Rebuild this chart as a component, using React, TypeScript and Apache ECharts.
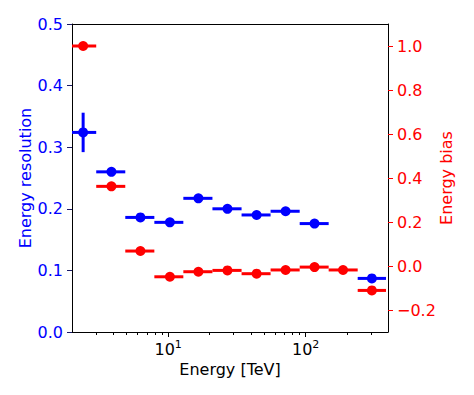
import { useEffect, useRef } from "react";
import * as echarts from "echarts";

// Energy bins (TeV)
const binEdges = [2.0, 3.0, 4.88, 7.94, 12.9, 21.0, 34.2, 55.6, 90.5, 147, 239, 384];
const binCenters = [2.41, 3.87, 6.29, 10.3, 16.6, 27.0, 44.0, 71.5, 116, 187, 303];
// Energy resolution (left axis)
const resolution: (number | null)[] = [0.324, 0.26, 0.186, 0.178, 0.217, 0.2, 0.19, 0.196, 0.176, null, 0.087];
const resolutionErr: (number | null)[] = [0.032, 0.004, 0.003, 0.003, 0.003, 0.003, 0.003, 0.003, 0.003, null, 0.003];
// Energy bias (right axis)
const bias = [1.0, 0.362, 0.068, -0.049, -0.026, -0.02, -0.035, -0.018, -0.005, -0.018, -0.111];
const biasErr = [0.01, 0.005, 0.005, 0.005, 0.005, 0.005, 0.005, 0.005, 0.005, 0.005, 0.005];

const xMajorTicks = [10, 100];
const xMinorTicks = [3, 4, 5, 6, 7, 8, 9, 20, 30, 40, 50, 60, 70, 80, 90, 200, 300];
const biasTicks = [-0.2, 0, 0.2, 0.4, 0.6, 0.8, 1.0];

const FONT = "DejaVu Sans";
const BLUE = "#0000ff";
const RED = "#ff0000";
const AXIS = "#000000";

function buildRows(values: (number | null)[], errs: (number | null)[]) {
  const rows: number[][] = [];
  values.forEach((v, i) => {
    if (v === null || v === undefined) return;
    rows.push([binEdges[i], binEdges[i + 1], v, binCenters[i], (errs[i] as number) || 0]);
  });
  return rows;
}

function errRender(color: string) {
  return (params: any, api: any) => {
    const lo = api.value(0);
    const hi = api.value(1);
    const y = api.value(2);
    const c = api.value(3);
    const e = api.value(4);
    const p1 = api.coord([lo, y]);
    const p2 = api.coord([hi, y]);
    const p3 = api.coord([c, y + e]);
    const p4 = api.coord([c, y - e]);
    return {
      type: "group",
      children: [
        {
          type: "line",
          shape: { x1: p1[0], y1: p1[1], x2: p2[0], y2: p2[1] },
          style: { stroke: color, lineWidth: 3 },
        },
        {
          type: "line",
          shape: { x1: p3[0], y1: p3[1], x2: p4[0], y2: p4[1] },
          style: { stroke: color, lineWidth: 3 },
        },
      ],
    };
  };
}

export default function App() {
  const ref = useRef<HTMLDivElement>(null);
  useEffect(() => {
    if (!ref.current) return;
    const chart = echarts.init(ref.current, undefined, { renderer: "svg" });
    const resRows = buildRows(resolution, resolutionErr);
    const biasRows = buildRows(bias, biasErr);
    const xCommon = {
      type: "log" as const,
      logBase: 10,
      min: 2.0,
      max: 397,
      splitLine: { show: false },
      minorTick: { show: false },
    };
    chart.setOption({
      animation: false,
      backgroundColor: "#ffffff",
      textStyle: { fontFamily: FONT },
      grid: { left: 72, right: 86, top: 24, bottom: 63, containLabel: false },
      xAxis: [
        {
          ...xCommon,
          position: "bottom",
          name: "Energy [TeV]",
          nameLocation: "middle",
          nameGap: 29,
          nameMoveOverlap: false,
          nameTextStyle: { fontFamily: FONT, fontSize: 16, color: "#000" },
          axisLine: { show: true, onZero: false, lineStyle: { color: AXIS, width: 1 } },
          axisTick: { show: true, length: 5, lineStyle: { color: AXIS }, customValues: xMajorTicks },
          axisLabel: {
            show: true,
            margin: 7,
            customValues: xMajorTicks,
            formatter: (v: number) => (Math.abs(v - 10) < 1e-6 ? "{b|10}{s|1}" : "{b|10}{s|2}"),
            rich: {
              b: { fontFamily: FONT, fontSize: 16, color: "#000", lineHeight: 20 },
              s: { fontFamily: FONT, fontSize: 11, color: "#000", lineHeight: 12, verticalAlign: "top" },
            },
          },
        },
        {
          ...xCommon,
          position: "bottom",
          axisLine: { show: false, onZero: false },
          axisTick: { show: true, length: 3, lineStyle: { color: AXIS }, customValues: xMinorTicks },
          axisLabel: { show: false },
        },
        {
          ...xCommon,
          position: "top",
          axisLine: { show: true, onZero: false, lineStyle: { color: AXIS, width: 1 } },
          axisTick: { show: false },
          axisLabel: { show: false },
        },
      ],
      yAxis: [
        {
          type: "value",
          position: "left",
          min: 0,
          max: 0.5,
          interval: 0.1,
          name: "Energy resolution",
          nameLocation: "middle",
          nameGap: 39,
          nameMoveOverlap: false,
          nameRotate: 90,
          nameTextStyle: { fontFamily: FONT, fontSize: 16, color: BLUE },
          splitLine: { show: false },
          axisLine: { show: true, onZero: false, lineStyle: { color: AXIS, width: 1 } },
          axisTick: { show: true, length: 5, lineStyle: { color: "#1a1a66" } },
          axisLabel: {
            margin: 9,
            fontFamily: FONT,
            fontSize: 16,
            color: BLUE,
            formatter: (v: number) => v.toFixed(1),
          },
        },
        {
          type: "value",
          position: "right",
          min: -0.3,
          max: 1.1,
          name: "Energy bias",
          nameLocation: "middle",
          nameGap: 50,
          nameMoveOverlap: false,
          nameRotate: 90,
          nameTextStyle: { fontFamily: FONT, fontSize: 16, color: RED },
          splitLine: { show: false },
          axisLine: { show: true, onZero: false, lineStyle: { color: AXIS, width: 1 } },
          axisTick: { show: true, length: 5, lineStyle: { color: RED }, customValues: biasTicks },
          axisLabel: {
            margin: 9,
            fontFamily: FONT,
            fontSize: 16,
            color: RED,
            customValues: biasTicks,
            formatter: (v: number) => (v < -1e-9 ? "\u2212" + Math.abs(v).toFixed(1) : Math.abs(v).toFixed(1)),
          },
        },
      ],
      series: [
        {
          type: "custom",
          xAxisIndex: 0,
          yAxisIndex: 0,
          renderItem: errRender(BLUE),
          data: resRows,
          encode: { x: [0, 1], y: 2 },
          z: 2,
          silent: true,
        },
        {
          type: "scatter",
          xAxisIndex: 0,
          yAxisIndex: 0,
          symbol: "circle",
          symbolSize: 10,
          itemStyle: { color: BLUE, opacity: 1 },
          data: resRows.map((r) => [r[3], r[2]]),
          z: 3,
          silent: true,
        },
        {
          type: "custom",
          xAxisIndex: 0,
          yAxisIndex: 1,
          renderItem: errRender(RED),
          data: biasRows,
          encode: { x: [0, 1], y: 2 },
          z: 4,
          silent: true,
        },
        {
          type: "scatter",
          xAxisIndex: 0,
          yAxisIndex: 1,
          symbol: "circle",
          symbolSize: 10,
          itemStyle: { color: RED, opacity: 1 },
          data: biasRows.map((r) => [r[3], r[2]]),
          z: 5,
          silent: true,
        },
      ],
    });
    return () => chart.dispose();
  }, []);
  return (
    <div
      ref={ref}
      style={{ position: "fixed", left: 0, top: 0, width: 474, height: 395, background: "#fff" }}
    />
  );
}
